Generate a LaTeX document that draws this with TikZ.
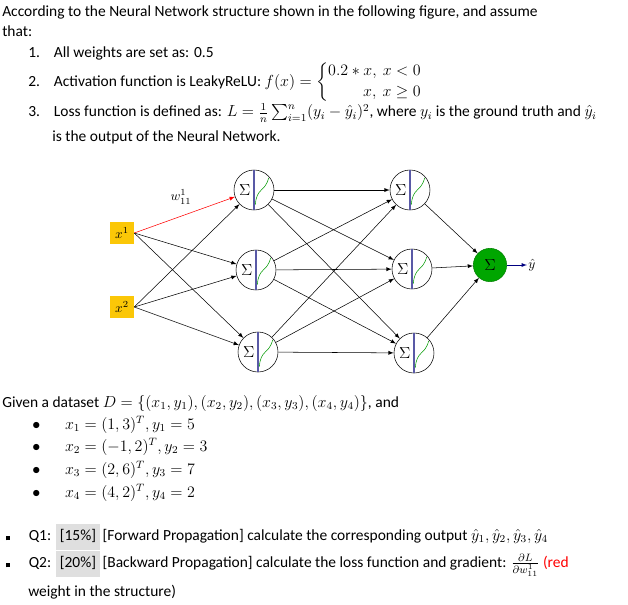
\documentclass[tikz,border=0pt]{standalone}
\usepackage{amsmath}
\usepackage{fontspec}
\setmainfont{Carlito}
\begin{document}
\begin{tikzpicture}[x=0.75pt,y=-0.75pt,
  txt/.style={anchor=west,inner sep=0pt,font=\fontsize{11.6}{13}\selectfont},
  neuron/.style={circle,draw,minimum size=30pt,inner sep=0pt},
  inp/.style={fill=yellow!60!orange,minimum width=18pt,minimum height=17pt,inner sep=0pt},
  cn/.style={-latex,black,thin},
  >=latex]
\useasboundingbox (0,0) rectangle (628,604);
\newcommand{\neur}[2]{%
  \node[neuron] (#1) at #2 {};
  \draw[blue!30!gray,thick] ([yshift=-15pt]#1.center)--([yshift=15pt]#1.center);
  \node[inner sep=0pt,font=\large] at ([xshift=-7pt]#1.center) {$\Sigma$};
  \draw[green!60!black] ([xshift=1pt,yshift=-11pt]#1.center) .. controls ([xshift=2pt,yshift=2pt]#1.center) and ([xshift=8pt,yshift=-2pt]#1.center) .. ([xshift=11pt,yshift=9pt]#1.center);
}
\node[txt] (l1) at (2,12) {According to the Neural Network structure shown in the following figure, and assume};
\node[txt] (l2) at (2,31) {that:};
\node[txt] (i1) at (28,53) {1.\hspace{0.9em}All weights are set as: 0.5};
\node[txt] (i2) at (28,82) {2.\hspace{0.9em}Activation function is LeakyReLU: $f(x)=\begin{cases}0.2*x,\ x<0\\ \hfill x,\ x\ge 0\end{cases}$};
\node[txt] (i3) at (28,113) {3.\hspace{0.9em}Loss function is defined as: $L=\frac{1}{n}\sum_{i=1}^{n}(y_i-\hat y_i)^2$, where $y_i$ is the ground truth and $\hat y_i$};
\node[txt] (i4) at (52,137) {is the output of the Neural Network.};

\node[inp] (x1) at (122,233) {$x^1$};
\node[inp] (x2) at (122,307) {$x^2$};
\neur{a1}{(254,190)}
\neur{a2}{(256,270)}
\neur{a3}{(258,352)}
\neur{b1}{(410,190)}
\neur{b2}{(412,269)}
\neur{b3}{(414,353)}
\node[circle,fill=green!65!black,draw=green!50!black,minimum size=25pt,inner sep=0pt,font=\large] (o) at (490,265) {$\Sigma$};
\node[inner sep=1pt] (yh) at (532,265) {$\hat y$};
\draw[-latex,red] (x1.east)--(a1);
\draw[cn] (x1.east)--(a2); \draw[cn] (x1.east)--(a3);
\foreach \t in {a1,a2,a3}{\draw[cn] (x2.east)--(\t);}
\foreach \s in {a1,a2,a3}{\foreach \t in {b1,b2,b3}{\draw[cn] (\s)--(\t);}}
\foreach \s in {b1,b2,b3}{\draw[cn] (\s)--(o);}
\draw[-latex,blue!50!black] (o)--(yh);
\node (w) at (181,197) {$w_{11}^1$};

\node[txt] (g) at (2,403) {Given a dataset $D=\{(x_1,y_1),(x_2,y_2),(x_3,y_3),(x_4,y_4)\}$, and};
\node[txt] (d1) at (32,425) {$\bullet$\hspace{1.6em}$x_1=(1,3)^T, y_1=5$};
\node[txt] (d2) at (32,447) {$\bullet$\hspace{1.6em}$x_2=(-1,2)^T, y_2=3$};
\node[txt] (d3) at (32,470) {$\bullet$\hspace{1.6em}$x_3=(2,6)^T, y_3=7$};
\node[txt] (d4) at (32,493) {$\bullet$\hspace{1.6em}$x_4=(4,2)^T, y_4=2$};
\node[txt] (q1) at (6,537) {\rule{3pt}{3pt}\hspace{1.2em}Q1: \colorbox{gray!25}{\strut[15\%]}\,[Forward Propagation] calculate the corresponding output $\hat y_1,\hat y_2,\hat y_3,\hat y_4$};
\node[txt] (q2) at (6,564) {\rule{3pt}{3pt}\hspace{1.2em}Q2: \colorbox{gray!25}{\strut[20\%]}\,[Backward Propagation] calculate the loss function and gradient: $\frac{\partial L}{\partial w_{11}^1}$ \textcolor{red}{(red}};
\node[txt] (q3) at (28,592) {weight in the structure)};
\end{tikzpicture}
\end{document}
